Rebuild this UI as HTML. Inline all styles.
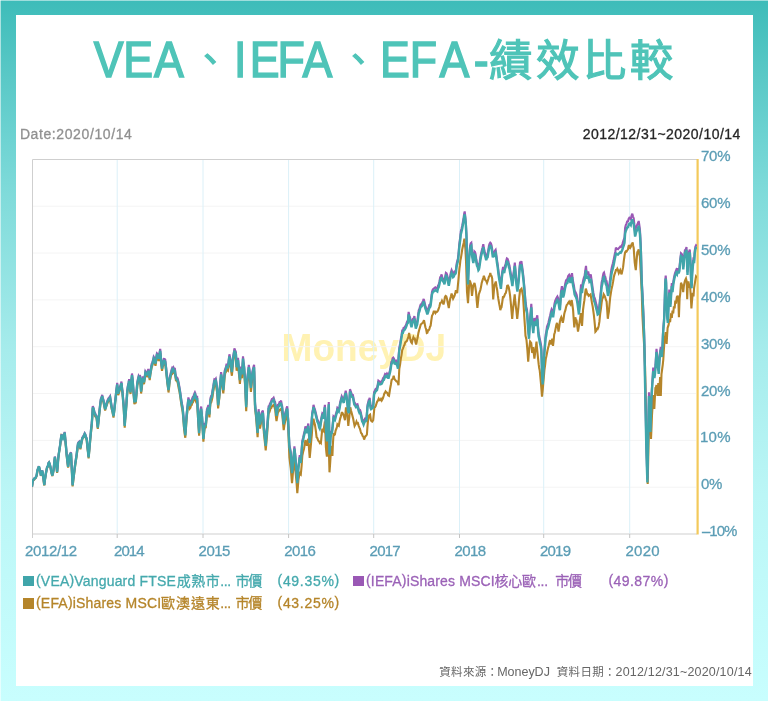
<!DOCTYPE html>
<html lang="zh-Hant">
<head>
<meta charset="utf-8">
<title>VEA、IEFA、EFA-績效比較</title>
<style>
html,body{margin:0;padding:0;}
body{width:768px;height:701px;overflow:hidden;position:relative;
  background:linear-gradient(to bottom,rgb(61,188,185) 0%,rgb(91,201,199) 11.4%,rgb(110,211,210) 20%,rgb(128,219,218) 27.8%,rgb(166,236,236) 50%,rgb(187,246,246) 70.6%,rgb(200,254,254) 100%);
  font-family:"Liberation Sans","Noto Sans CJK TC",sans-serif;}
#card{position:absolute;left:15.5px;top:15px;width:737.9px;height:671.3px;background:#fff;}
#eT{position:absolute;left:0;top:0;width:768px;height:1px;background:rgba(255,255,255,.5);}
#eL{position:absolute;left:0;top:0;width:1px;height:701px;background:rgba(255,255,255,.55);}
.t{position:absolute;white-space:nowrap;line-height:1;}
.pa{position:relative;top:-1.2px;}
.sq{position:absolute;width:10.6px;height:10.5px;}
svg{position:absolute;left:0;top:0;will-change:transform;}
#txt{position:absolute;left:0;top:0;width:768px;height:701px;will-change:transform;}
</style>
</head>
<body>
<div id="card"></div><div id="eT"></div><div id="eL"></div>
<svg id="ttl" width="768" height="110" viewBox="0 0 768 110" font-family="Liberation Sans, Noto Sans CJK TC, sans-serif" fill="#4fc4b8" stroke="#4fc4b8">
<text font-size="50.5" stroke-width="1.5" transform="translate(93.8,76.55) scale(0.885,1)" x="0 33.3 67.9" y="0">VEA</text>
<text font-size="36" stroke-width="1.2" x="192.3" y="73.3">、</text>
<text font-size="50.5" stroke-width="1.5" transform="translate(234,76.55) scale(0.885,1)" x="0 17.8 49.2 77.5" y="0">IEFA</text>
<text font-size="36" stroke-width="1.2" x="340.3" y="73.3">、</text>
<text font-size="50.5" stroke-width="1.5" transform="translate(380.1,76.55) scale(0.885,1)" x="0 33.4 67.2 105.7" y="0">EFA-</text>
<text font-size="43.5" stroke-width="1.2" x="489" y="75.7" textLength="184.2" lengthAdjust="spacing">績效比較</text>
</svg>
<svg id="chart" width="768" height="701" viewBox="0 0 768 701">
<text x="281.6" y="361.4" font-family="Liberation Sans, sans-serif" font-weight="700" font-size="39.3" fill="#fff2b3" textLength="164.6" lengthAdjust="spacingAndGlyphs">MoneyDJ</text>
<rect x="432.2" y="332.8" width="6.1" height="6.4" fill="#fff"/>
<line x1="33" x2="696" y1="206.23" y2="206.23" stroke="#f4f4f4" stroke-width="1"/>
<line x1="33" x2="696" y1="253.05" y2="253.05" stroke="#f4f4f4" stroke-width="1"/>
<line x1="33" x2="696" y1="299.88" y2="299.88" stroke="#f4f4f4" stroke-width="1"/>
<line x1="33" x2="696" y1="346.70" y2="346.70" stroke="#f4f4f4" stroke-width="1"/>
<line x1="33" x2="696" y1="393.52" y2="393.52" stroke="#f4f4f4" stroke-width="1"/>
<line x1="33" x2="696" y1="440.35" y2="440.35" stroke="#f4f4f4" stroke-width="1"/>
<line x1="33" x2="696" y1="487.18" y2="487.18" stroke="#f4f4f4" stroke-width="1"/>
<line x1="117.2" x2="117.2" y1="160" y2="533.5" stroke="#dbf0f8" stroke-width="1"/>
<line x1="203" x2="203" y1="160" y2="533.5" stroke="#dbf0f8" stroke-width="1"/>
<line x1="288.6" x2="288.6" y1="160" y2="533.5" stroke="#dbf0f8" stroke-width="1"/>
<line x1="373.7" x2="373.7" y1="160" y2="533.5" stroke="#dbf0f8" stroke-width="1"/>
<line x1="459.5" x2="459.5" y1="160" y2="533.5" stroke="#dbf0f8" stroke-width="1"/>
<line x1="543.7" x2="543.7" y1="160" y2="533.5" stroke="#dbf0f8" stroke-width="1"/>
<line x1="629.7" x2="629.7" y1="160" y2="533.5" stroke="#dbf0f8" stroke-width="1"/>
<path d="M32.5,538 V159.5 H697" fill="none" stroke="#cfcfcf" stroke-width="1"/>
<path d="M32.5,534 H697" fill="none" stroke="#cfcfcf" stroke-width="1"/>
<line x1="117.2" x2="117.2" y1="534" y2="538" stroke="#c4c4c4" stroke-width="1"/>
<line x1="203" x2="203" y1="534" y2="538" stroke="#c4c4c4" stroke-width="1"/>
<line x1="288.6" x2="288.6" y1="534" y2="538" stroke="#c4c4c4" stroke-width="1"/>
<line x1="373.7" x2="373.7" y1="534" y2="538" stroke="#c4c4c4" stroke-width="1"/>
<line x1="459.5" x2="459.5" y1="534" y2="538" stroke="#c4c4c4" stroke-width="1"/>
<line x1="543.7" x2="543.7" y1="534" y2="538" stroke="#c4c4c4" stroke-width="1"/>
<line x1="629.7" x2="629.7" y1="534" y2="538" stroke="#c4c4c4" stroke-width="1"/>
<rect x="696.5" y="159" width="2.2" height="375.5" fill="#f3c95b"/>
<clipPath id="cp"><rect x="32" y="160" width="665" height="373.5"/></clipPath>
<g clip-path="url(#cp)" fill="none" stroke-width="2.2" stroke-linejoin="miter" stroke-miterlimit="3" stroke-linecap="butt">
<polyline stroke="#b5852a" stroke-width="2.1" points="32,487 32.7,481.3 33.4,480.3 34.2,479.7 34.9,478.7 35.8,478.1 36.6,475.9 37.2,472.8 37.7,469.9 38.3,468.3 38.9,466.7 39.4,468.8 39.9,470.6 40.4,472.6 40.9,475.9 41.5,473.5 42.2,471 42.8,474.7 43.3,477.9 43.8,482.3 44.3,485.5 44.8,480.9 45.3,477.9 45.9,474.1 46.5,470.3 47.1,467.8 47.8,466.9 48.4,465.1 49.1,463.1 49.8,464.6 50.5,467.9 51.1,471.6 51.8,474.3 52.4,476.1 53,473.6 53.6,470.4 54.2,464.2 54.9,457.5 55.5,460.8 56.1,465.5 56.6,468.2 57.1,472.8 57.7,466.2 58.2,459.5 58.8,454.2 59.5,449.9 60.1,446.1 60.8,440.3 61.5,435.5 62.2,436.3 63,439 63.9,436.1 64.7,433.3 65.5,442.4 66.1,449.1 66.7,456 67.4,462.5 68.1,467.7 68.8,462.2 69.4,456.7 70.2,455.5 71,453.8 71.8,470.1 72.6,486.4 73.2,481.7 73.8,476.4 74.5,471.1 75.2,465.5 75.9,460.7 76.6,456.4 77.3,451.2 78,444.9 78.7,444.8 79.3,443.3 79.8,446.7 80.4,449.3 81,445.6 81.7,442.1 82.3,439.3 83.1,437.4 83.9,435.6 84.7,435 85.4,437.3 86,438.3 86.7,440.2 87.3,447 88,452.1 88.6,458.4 89.4,449.8 90.3,439.4 91,432.8 91.8,424.8 92.3,415.6 92.8,408.4 93.7,410.9 94.5,414.5 95.2,416.5 95.8,416.8 96.5,418 97.2,424.4 97.8,428.9 98.5,421.8 99.2,415.1 100.1,407.1 100.9,400.9 101.6,399.4 102.2,397.4 102.9,400.6 103.6,402.7 104.3,406.2 105.1,410.6 105.9,407.1 106.7,405.3 107.6,402.8 108.4,401 109.2,400.9 110.1,399 110.9,404.5 111.7,409 112.3,411.1 112.9,414.2 113.5,417.6 114.2,411.4 114.8,406.7 115.5,399.4 116.2,393.8 116.7,390.4 117.2,385.9 117.7,389.9 118.2,395.2 118.9,393.2 119.6,390.9 120.2,388.7 120.9,386.1 121.5,384.6 122,389.7 122.5,393.9 123.1,400.3 123.7,408.2 124.2,418.2 124.7,427.6 125.2,420 125.8,414 126.5,403.8 127.2,394 127.8,389.6 128.5,385.9 129.1,382.5 129.8,389.2 130.5,394 131.2,386 132,376.8 132.5,381.4 133,386.8 133.7,396.2 134.4,404.1 135.1,402.8 135.8,402.7 136.6,393.9 137.3,385.5 138,383 138.7,379.1 139.4,379.7 140.1,379.8 140.6,385.9 141.1,393.5 141.9,387.7 142.7,379.9 143.3,381.5 144,384.2 144.7,379.1 145.4,374.9 146.2,376.2 146.9,376.4 147.6,374.3 148.3,372.8 149,376 149.7,380 150.3,375.1 151,371 151.6,367.8 152.3,365.6 153,362.6 153.7,360.7 154.3,362.6 154.9,363.8 155.5,365.8 156.2,361.4 156.9,357.2 157.5,359.3 158.2,359.5 158.8,360.7 159.5,357 160.2,353 160.7,359.4 161.2,364.4 162,370.9 162.6,367.6 163.2,364.9 163.8,363 164.5,364.2 165.2,363.7 165.8,369 166.3,373 166.8,377.5 167.3,383.1 167.9,387.2 168.5,392.5 169.2,386.9 169.8,380.3 170.4,379 171,375.4 171.6,373.8 172.2,374 172.9,373.2 173.5,371.8 174.2,372.7 174.9,373.2 175.4,376.6 175.9,380.4 176.5,380.5 177.2,381.3 177.8,383.2 178.7,388.4 179.5,391.8 180.2,396.4 181,402 181.8,407.4 182.7,412 183.4,420.1 184.1,429.2 184.7,434.1 185.3,437.8 186,428 186.7,417.8 187.6,409.5 188.4,402.1 189.1,404.7 189.8,408.5 190.4,407.7 191.1,405.2 191.7,404.9 192.3,403 193,402.2 193.6,400.7 194.2,399.7 194.9,397.2 195.4,399.6 196,401.5 196.6,400.7 197.1,400.7 197.7,412.6 198.3,422.9 199.1,435.8 199.6,426 200.1,417.3 200.6,413.5 201.2,411.6 201.7,416.8 202.2,423 202.8,432.2 203.4,441.7 204,434.4 204.6,428.8 205.2,427.5 205.8,427.4 206.4,420.7 206.9,414.5 207.7,412.5 208.4,410.2 208.9,413.1 209.4,417.5 209.9,410.1 210.5,403.2 211.2,402.5 211.8,400.3 212.5,397 213.2,391.8 213.8,388.5 214.4,384.6 215.1,384.6 215.8,383.9 216.4,388 217,391.8 217.6,399.4 218.1,408.4 218.8,402.1 219.4,397.6 220.2,386.6 221.1,377.6 221.7,382.8 222.3,386.3 222.8,390.3 223.3,393.4 224,385.8 224.7,376.3 225.3,373 226,371.8 226.6,369.2 227.3,369.9 228,370.6 228.7,365.7 229.4,359.9 230.2,363.5 230.9,367.9 231.4,372.8 231.9,375.7 232.6,367.4 233.3,360.7 233.9,357.6 234.4,354.3 235.2,356.6 235.9,357.9 236.6,370.8 237.3,368.1 238,363.8 238.6,370.9 239.3,377.5 239.9,383.8 240.4,378.7 240.9,372.4 241.4,376.1 242,378.2 242.5,370 243,362.4 243.6,367.8 244.2,372.5 244.7,380.5 245.2,386.8 245.7,399.7 246.2,411.2 246.8,397.4 247.3,384 248.1,378.1 248.8,371.1 249.4,376.2 249.9,379.8 250.4,386 250.9,392 251.6,385.4 252.3,378.4 252.9,375.8 253.5,373.8 254.1,371.3 254.6,390.1 255,408.4 255.7,414 256.4,421.3 257,429.5 257.6,437.1 258.1,427.4 258.6,415.7 259.3,422.9 260,428.6 260.7,424.8 261.4,420.1 262.1,418.5 262.9,417.3 263.4,425.7 263.9,433.1 264.5,439 265.1,444.5 265.7,450.4 266.4,442.5 267.2,433.3 267.9,422.5 268.6,413.3 269.3,412.4 270,410.5 270.6,408.2 271.3,407.9 271.9,406.3 272.8,405.6 273.6,405 274.4,406.7 275.1,409.4 275.8,415.6 276.5,421 277.2,416.7 277.9,412.5 278.8,411.3 279.6,409.7 280.4,409.9 281.1,408.4 281.6,410.8 282.2,414.2 282.9,421.2 283.7,430.1 284.5,424.7 285.4,420.1 286,418.6 286.6,415.8 287.2,414.5 287.7,420.3 288.2,427.5 288.8,443.2 289.4,457.3 290.1,463.4 290.8,468.8 291.4,475.8 292,483.1 292.5,478.1 293,471.6 293.7,465.6 294.4,460.2 295.1,467.7 295.8,474.5 296.6,483.2 297.3,493.1 297.9,486.5 298.4,480.2 299,476.5 299.7,471.6 300.2,473.9 300.8,474.5 301.6,466 302.3,455.9 303.1,452.1 304,448.7 304.7,444.6 305.4,440.1 306.1,442.6 306.9,445.8 307.6,441.5 308.3,438.7 309,448.3 309.7,458 310.4,450.4 311.2,441.5 311.8,435 312.3,427.2 312.9,423.3 313.5,418.6 314.2,422.4 314.9,424.4 315.8,430.4 316.6,437.2 317.3,438 318,440.1 318.6,441 319.2,441.6 319.8,443 320.4,442.4 320.9,443 321.6,435.7 322.3,428.7 322.9,430 323.5,430.8 324.2,426.1 324.9,421.5 325.4,434 325.9,447.3 326.4,452.6 326.9,456.6 327.5,447.2 328.1,435.8 328.8,447.3 329.5,472.3 330.1,464 330.6,455.9 331.1,450 331.6,445.8 332.4,455.9 332.9,444.2 333.5,434.4 334.2,435.1 334.9,434.4 335.6,430.6 336.4,428.7 336.9,427 337.4,424.4 338.1,425.2 338.8,425.8 339.5,421.8 340.2,418.6 340.9,416.3 341.7,412.9 342.4,412.9 343.1,414.1 343.8,415.8 344.4,417.9 345,420.2 345.5,412.8 346,407.3 346.6,411.6 347.2,414.5 347.8,419.7 348.3,425.9 348.8,420.9 349.3,417.3 349.8,411.4 350.3,407.3 351,410.4 351.7,413 352.4,415.8 353.2,418.8 353.9,422.6 354.6,425.9 355.2,424.8 355.9,423.6 356.5,421.6 357.2,423.3 357.9,423.1 358.6,425.6 359.3,427.4 359.9,428.7 360.6,431.2 361.2,433.1 361.9,433.9 362.6,436 363.4,436.8 364.1,439.5 364.8,437.7 365.5,436 366.2,435.7 366.9,434.5 367.4,427.4 367.9,421.6 368.4,418.3 368.9,415.9 369.5,414.9 370.1,414.5 370.9,420.2 371.5,421.3 372.2,421.6 372.7,420.9 373.2,420.2 373.8,414 374.4,407.3 375.1,407.1 375.8,405.9 376.5,403.5 377.2,401.6 377.9,400.7 378.7,398.7 379.5,400.2 380.4,400.1 381,399 381.7,400.5 382.3,399.4 383,398 383.7,395.8 384.3,393.6 385,392.8 385.6,391.5 386.5,392.5 387.3,393 388.1,395.2 389,395.8 389.6,392 390.1,388.7 390.9,384.5 391.6,380.1 392.3,379.4 393,377.8 393.7,375.8 394.4,378.8 395.2,380.1 395.8,380.5 396.4,381.3 397,381.5 397.8,382.7 398.5,385.1 399.3,368.9 400.1,364.3 400.8,358.8 401.5,355.1 402.2,350.2 403,348.3 403.9,345.9 404.5,344.9 405.2,342.5 405.8,341.6 406.4,341.5 407,340.7 407.6,338.8 408.4,336.9 409.1,333 409.8,336.7 410.5,340.2 411.2,342.2 411.9,343.1 412.6,339.8 413.4,337.3 414.1,338.9 414.8,338.8 415.5,342.4 416.2,344.5 416.9,340.6 417.7,337.3 418.4,332.9 419.1,330.2 420,327.2 420.8,324.4 421.6,323.8 422.5,323 423.2,322.1 424,320.1 424.7,323.7 425.4,327.3 426.1,329.2 426.8,333 427.4,332.7 428.1,330.3 428.7,330.2 429.3,329.4 430,326.7 430.6,325.9 431.3,320.5 432,315.8 432.9,314.2 433.7,311.5 434.5,311.5 435.4,313 436,311.8 436.7,312 437.3,311.5 438,310.5 438.7,308.7 439.4,306.5 440.2,303 440.8,302.6 441.4,302.4 442,300.8 442.8,302.6 443.5,304.4 444.2,301.7 444.9,297.2 445.6,296 446.3,296.5 447.1,299.2 447.8,303 448.3,305.6 448.8,308 449.5,302.9 450.2,298.7 450.9,296.6 451.6,293.6 452.4,296.4 453.1,298.7 453.8,297.3 454.5,295.8 455.2,293.6 455.9,290.1 456.5,291.7 457.2,293.1 457.8,286.3 458.4,280.2 458.9,274.3 459.4,268.8 459.9,265.2 460.4,260.2 460.9,258.1 461.5,254.4 462.2,249.5 463,245.8 463.7,243 464.4,238.7 464.9,244.6 465.4,248.7 466.1,263 467,291.7 467.5,297.5 468,303.2 468.7,291.8 469.4,280.2 470.2,281.7 471,284.3 471.5,290.1 472,295.8 472.6,290.8 473.1,285.8 473.8,284.6 474.5,282.9 475.2,286.3 476,291.5 476.7,300.7 477.4,308 478.1,301.2 478.8,294.4 479.6,292.1 480.3,290.1 481,287.1 481.7,282.9 482.4,280.6 483.2,278.1 483.9,275.7 484.6,278.2 485.3,280 486.1,280.6 487,282.9 487.7,280.8 488.4,278.6 489,276.5 489.7,275.7 490.3,272.9 490.9,275.6 491.6,276.2 492.2,278.6 492.7,288.9 493.2,299.4 493.8,291.9 494.3,285.8 495.1,283.5 495.8,281.5 496.5,286.4 497.2,290.1 497.8,295.2 498.3,298.7 498.8,301.5 499.3,304.4 499.8,306.9 500.3,310.2 500.9,308.1 501.5,307.3 502.2,302.5 502.9,297.3 503.6,297.4 504.4,295.8 505.1,293.7 505.8,293 506.5,290 507.2,285.8 507.9,285.5 508.7,287.2 509.4,290.9 510.1,295.8 510.6,301 511.2,307.3 511.7,313.4 512.2,318.8 512.7,312.7 513.2,307.3 514,300.6 514.7,294.4 515.2,300.4 515.8,305.9 516.5,311.6 517.2,318.8 517.8,313.5 518.4,307.3 519.2,297.9 520.1,290.1 520.8,289.4 521.5,288.7 522.2,291.8 523,295.8 523.7,306.6 524.4,318.6 525,327.3 525.5,335.8 526,337.8 526.5,340.1 527,345.6 527.5,351.5 528.2,361.6 529.1,350.1 529.6,345.6 530.1,341.5 530.7,342.3 531.2,343 531.7,347.3 532.2,353 532.7,349.5 533.2,347.2 533.8,353.2 534.4,358.7 534.9,354.7 535.4,350.1 536,345.9 536.5,341.5 537,348 537.5,353 538.1,358.9 538.7,364.4 539.2,368 539.7,370.2 540.2,375.4 540.8,381.6 541.5,390.2 542,396.7 542.7,390.2 543.4,381.6 543.9,376.4 544.4,370.2 545.1,365.1 545.8,358.7 546.5,355.9 547.3,351.5 548,348.3 548.7,345.8 549.4,342.6 550.1,340.1 550.7,343.1 551.3,344.4 551.8,341 552.3,338.7 553,345.8 553.6,341.1 554.2,334.4 554.9,332.3 555.6,328.6 556.3,325 557,322.9 557.8,326.7 558.5,331.5 559.2,327 559.9,321.5 560.6,318.9 561.3,317.2 562,319.2 562.8,322.9 563.5,319.3 564.2,314.3 564.8,311.8 565.4,310.2 566,307.3 566.7,305.1 567.4,304.4 568.2,302.8 569.1,301.6 569.8,303.4 570.5,304.4 571.1,301.3 571.7,300.1 572.4,304.6 573.1,310.2 573.7,319.2 574.3,327.4 574.8,323.2 575.3,317.3 575.9,319.7 576.5,320.2 577.2,325.2 578,331.7 578.7,327.4 579.4,323.1 580.1,318.6 580.8,313.1 581.4,319.6 582,326 582.5,318.5 583,310.2 583.7,304.6 584.4,300.2 585.1,293.6 585.8,288.7 586.5,290.8 587.3,294.4 588,294.2 588.7,295.9 589.3,295.5 590,294.9 590.6,294.4 591.3,298.8 592,303 592.7,306.6 593.4,311.6 593.9,315.3 594.4,320.2 594.9,325.4 595.4,331.7 596.1,330.9 596.9,328.8 597.6,329.1 598.3,327.4 598.8,325.4 599.4,321.7 600.1,314.4 600.9,308.8 601.6,302.9 602.3,298.7 603,297.5 603.7,294.4 604.5,295.8 605.2,297.3 605.9,300 606.6,301.6 607.2,309.9 607.8,318.8 608.3,315.1 608.9,311.6 609.5,304.5 610.2,297.3 610.9,292.9 611.6,288.7 612.4,285.3 613.1,281.5 613.8,277 614.5,274.4 615.2,272.7 615.9,270.1 616.6,270.1 617.3,268.7 618,270.2 618.8,273 619.5,271.5 620.2,270.1 620.9,272.7 621.6,274.4 622.4,270.6 623.1,267.2 623.8,260.9 624.5,255.8 625.1,252.3 625.8,251.3 626.5,251.6 627.2,250.5 628,249.4 628.5,246.3 629,245.1 629.5,247.3 630.1,248 630.8,246.8 631.5,244.4 632.1,243.8 632.7,242.3 633.2,245.9 633.7,248 634.2,255.4 634.7,262.3 635.2,266.1 635.8,270.2 636.5,261.4 637.3,252.3 638,250.9 638.7,249.4 639.3,254 639.9,256.6 640.4,266.5 640.9,275.2 641.8,294 642.4,315 643.2,330 644.1,345 644.6,356 645.1,368 645.8,400 646.5,440 647.1,462.8 647.7,484 648.4,450 649.2,415 650,405 650.5,422.5 651,439 651.5,427.6 652,415 652.6,405.6 653.2,395 653.8,401.8 654.3,409 654.8,399.3 655.4,388 656,387.3 656.5,385 657,390.9 657.5,396 658.3,383 658.8,390 659.2,396 660.1,377 660.8,396 661.5,374 662.3,368 662.8,364.3 663.3,359.5 663.8,350.6 664.4,342 665,337.4 665.6,332 666.1,337.1 666.6,344 667.1,335.7 667.6,328 668.1,326.4 668.6,324.9 669.3,319.2 670.1,322.1 670.8,314.9 671.3,315.4 671.8,317.8 672.5,310.7 673.2,313.5 673.9,306.4 674.6,308.5 675.3,300.7 676,303.5 676.8,297.1 677.2,296.5 677.7,296.4 678.4,300.7 678.9,317.1 679.6,298.5 680.3,292.8 681,282.8 681.7,284.3 682.5,286.4 683.2,292.1 683.9,285.7 684.6,282.1 685.3,280 686,278.6 686.7,281.4 687.2,299.3 687.8,283.6 688.5,281.4 689.1,287.8 689.8,283.6 690.3,289.3 690.8,296.4 691.4,308.5 692.1,300 692.8,292.8 693.5,296.4 694.1,287.8 694.8,283.6 695.5,279.3 696,276.4 696.5,277 697,277"/>
<polyline stroke="#9a58b5" stroke-width="2.1" points="32,486.7 32.7,481 33.4,479.7 34.2,478.5 34.9,478.3 35.8,477.2 36.6,475.4 37.2,471.5 37.7,469.4 38.3,467.9 38.9,466.2 39.4,467.9 39.9,470.1 40.4,471.8 40.9,475.3 41.5,472.9 42.2,470.4 42.8,472.9 43.3,477.2 43.8,480.9 44.3,484.8 44.8,480.1 45.3,477.2 45.9,473 46.5,470.2 47.1,467 47.8,466.1 48.4,463.1 49.1,462.3 49.8,464.1 50.5,467 51.1,470 51.8,473.3 52.4,475.1 53,472.4 53.6,469.4 54.2,462.7 54.9,456.5 55.5,461.5 56.1,464.5 56.6,467.2 57.1,471.7 57.7,465.7 58.2,458.3 58.8,453.4 59.5,448.7 60.1,444.9 60.8,438.8 61.5,434.3 62.2,435.7 63,437.8 63.9,435.5 64.7,431.9 65.5,441 66.1,447.2 66.7,454.6 67.4,460.6 68.1,466.3 68.8,461 69.4,455.2 70.2,453.5 71,452.3 71.8,468.6 72.6,484.8 73.2,478.9 73.8,474.8 74.5,468.7 75.2,463.7 75.9,459 76.6,454.1 77.3,448.3 78,443.2 78.7,442 79.3,441.5 79.8,444.6 80.4,447.4 81,444 81.7,440.3 82.3,437.4 83.1,436.6 83.9,434.9 84.7,433.1 85.4,434.3 86,436.6 86.7,438.1 87.3,444.2 88,451 88.6,456.3 89.4,447.3 90.3,437.3 91,429.5 91.8,422.6 92.3,415.3 92.8,406.1 93.7,408.4 94.5,412.2 95.2,413.2 95.8,415 96.5,415.7 97.2,420.4 97.8,426.5 98.5,419.6 99.2,412.7 100.1,404.6 100.9,398.4 101.6,397 102.2,394.9 102.9,398 103.6,400.1 104.3,404.2 105.1,408 105.9,406.1 106.7,402.6 107.6,400.1 108.4,398.3 109.2,397.6 110.1,396.2 110.9,401.4 111.7,406.2 112.3,409.2 112.9,411.8 113.5,414.8 114.2,409.9 114.8,403.7 115.5,398.1 116.2,390.8 116.7,386.8 117.2,382.9 117.7,387.9 118.2,392.2 118.9,389.2 119.6,387.9 120.2,386.2 120.9,383.9 121.5,381.5 122,387.1 122.5,390.8 123.1,398.5 123.7,405 124.2,414.3 124.7,424.4 125.2,417.4 125.8,410.8 126.5,401.1 127.2,390.7 127.8,385.9 128.5,383 129.1,379.2 129.8,384.3 130.5,390.7 131.2,381.3 132,373.5 132.5,377.6 133,383.5 133.7,392.6 134.4,400.7 135.1,399.2 135.8,399.2 136.6,390.1 137.3,382 138,378.6 138.7,375.6 139.4,376.7 140.1,376.3 140.6,382.3 141.1,389.9 141.9,383 142.7,376.3 143.3,378.5 144,380.6 144.7,376.7 145.4,371.3 146.2,372.6 146.9,372.7 147.6,371.6 148.3,369 149,372.2 149.7,376.2 150.3,372 151,367.8 151.6,364 152.3,362.4 153,360.1 153.7,356.8 154.3,357.8 154.9,359.6 155.5,361.9 156.2,357.1 156.9,353.3 157.5,353.9 158.2,355.6 158.8,356.8 159.5,353 160.2,348.9 160.7,354.1 161.2,360.3 162,366.8 162.6,363.2 163.2,361.4 163.8,358.9 164.5,359 165.2,359.6 165.8,364.4 166.3,368.9 166.8,374.8 167.3,378.9 167.9,384 168.5,388.3 169.2,382.2 169.8,376.1 170.4,374.2 171,372.1 171.6,369.6 172.2,368 172.9,368.9 173.5,367.4 174.2,368.7 174.9,368.8 175.4,373.1 175.9,376 176.5,377.5 177.2,377.7 177.8,378.8 178.7,382.9 179.5,387.4 180.2,391.7 181,397.5 181.8,402.8 182.7,407.5 183.4,415.2 184.1,424.7 184.7,428.1 185.3,433.2 186,422.6 186.7,413.1 187.6,404.6 188.4,397.4 189.1,400.3 189.8,403.8 190.4,401.7 191.1,400.4 191.7,400.2 192.3,398.1 193,396.5 193.6,395.9 194.2,393.9 194.9,392.4 195.4,393.6 196,396.7 196.6,397 197.1,395.8 197.7,407.1 198.3,418 199.1,430.9 199.6,420.9 200.1,412.3 200.6,409 201.2,406.6 201.7,412 202.2,418 202.8,427.1 203.4,436.7 204,429.5 204.6,423.8 205.2,423.7 205.8,422.3 206.4,416.8 206.9,409.4 207.7,407.2 208.4,405.1 208.9,408.7 209.4,412.3 209.9,404.3 210.5,398 211.2,395.8 211.8,395.1 212.5,390.5 213.2,386.5 213.8,382.4 214.4,379.3 215.1,379.6 215.8,378.6 216.4,381.9 217,386.5 217.6,393.8 218.1,403 218.8,398.5 219.4,392.2 220.2,382.3 221.1,372.2 221.7,375.8 222.3,380.8 222.8,384.4 223.3,387.9 224,378.4 224.7,370.8 225.3,368.5 226,367 226.6,363.6 227.3,365 228,365 228.7,360 229.4,354.3 230.2,357.8 230.9,362.2 231.4,365.8 231.9,370 232.6,361.8 233.3,355 233.9,352.3 234.4,348.5 235.2,350.4 235.9,352.1 236.6,365 237.3,362 238,357.9 238.6,364.2 239.3,370.7 239.9,377.9 240.4,372.8 240.9,366.5 241.4,370.3 242,372.2 242.5,365 243,356.4 243.6,362.1 244.2,366.5 244.7,374.3 245.2,380.8 245.7,393.4 246.2,405 246.8,390.9 247.3,377.8 248.1,371.4 248.8,364.9 249.4,368.9 249.9,373.5 250.4,378.7 250.9,385.7 251.6,378 252.3,372.1 252.9,369.3 253.5,366.8 254.1,364.9 254.6,383.8 255,402 255.7,409.4 256.4,414.9 257,422.7 257.6,430.7 258.1,420.8 258.6,409.2 259.3,416.6 260,422.1 260.7,418.7 261.4,413.5 262.1,411.8 262.9,410.6 263.4,417.9 263.9,426.4 264.5,431.6 265.1,437.2 265.7,443.5 266.4,434.4 267.2,426.4 267.9,416.6 268.6,406.3 269.3,405.7 270,403.4 270.6,402.6 271.3,400.5 271.9,399.1 272.8,398.7 273.6,397.7 274.4,400.4 275.1,402 275.8,406.9 276.5,413.5 277.2,409.5 277.9,404.9 278.8,404.3 279.6,402 280.4,401.9 281.1,400.6 281.6,404 282.2,406.3 282.9,414.2 283.7,422.1 284.5,416.4 285.4,412 286,410.7 286.6,407.9 287.2,406.3 287.7,413.4 288.2,419.2 288.8,433 289.4,445 290.1,448.3 290.8,452.1 291.4,461.3 292,470.8 292.5,466.6 293,460.7 293.7,454 294.4,446.4 295.1,452.9 295.8,460.7 296.6,470 297.3,480.8 297.9,473 298.4,466.5 299,461.6 299.7,455 300.2,458.5 300.8,460.7 301.6,450 302.3,440.7 303.1,437.8 304,433.5 304.7,430.9 305.4,426.4 306.1,428.9 306.9,430.7 307.6,426.8 308.3,423.5 309,432.2 309.7,440.7 310.4,432.8 311.2,426.4 311.8,418.2 312.3,412 312.9,409.4 313.5,404.9 314.2,407.3 314.9,409.2 315.8,412.8 316.6,416.3 317.3,419.3 318,420.6 318.6,422.4 319.2,425.2 319.8,426.4 320.4,424.2 320.9,420.6 321.6,416.5 322.3,413.5 322.9,414.4 323.5,416.3 324.2,410.2 324.9,404.9 325.4,415.1 325.9,426.4 326.4,433 326.9,439.2 327.5,426.6 328.1,414.9 328.8,402 329.5,452.1 330.1,443.3 330.6,434.9 331.2,431.8 331.8,431 332.4,427.8 332.9,421.8 333.5,416.3 334.2,417 334.9,417.8 335.6,415.1 336.4,412 336.9,410.7 337.4,407.7 338.1,408.3 338.8,409.2 339.5,406.4 340.2,402 340.9,399.2 341.7,396.3 342.4,397.8 343.1,399.2 343.8,400.6 344.4,396.3 345.1,393.9 345.7,390.7 346.3,393.6 346.9,397.8 347.4,401.9 347.9,407.9 348.4,409.9 348.9,410.7 349.4,399.3 350,389.2 350.8,391.3 351.5,393.5 352.2,394.7 352.9,395 353.6,398.7 354.3,402.1 355.1,403.2 356,405 356.8,404.7 357.5,404.3 358.2,406.9 358.9,409.3 359.5,410.8 360.2,410.4 360.8,412.2 361.5,415.9 362.2,419.3 362.9,420.2 363.6,422.2 364.4,420 365.1,418.6 365.8,418.8 366.5,417.9 367,411.5 367.5,405 368.1,402.6 368.7,400 369.2,399.4 369.7,397.8 370.5,405.7 371.1,406.9 371.8,406.4 372.5,405.6 373.2,405 373.6,398.8 374.1,392.1 374.8,390.7 375.5,389.2 376.2,388.5 377,387.8 377.7,384.6 378.4,380.7 379.2,381.3 380.1,382.1 381,381.8 381.8,381.3 382.6,379.5 383.3,377.7 383.9,377.4 384.5,375.7 385.1,374.1 385.7,374.6 386.4,374.5 387,373.4 387.7,374.4 388.4,376.3 389.1,373.5 389.9,370.5 390.6,367.1 391.3,361.9 392,361.1 392.6,358.3 393.3,357.6 394,358.6 394.7,361.2 395.3,361.3 396,360.7 396.6,361.8 397.3,363.4 398,366.1 398.6,356 399.3,347.7 400.1,343.7 400.8,339.1 401.5,335.4 402.2,330.5 402.9,330.4 403.6,327.9 404.3,327.7 405,326.7 405.8,325.2 406.5,323.4 407.2,321.2 407.9,320.5 408.6,311.9 409.4,315.5 410.1,317.5 410.8,322 411.5,324.7 412.2,321.3 412.9,319 413.6,318.5 414.4,316.1 415.1,320.9 415.8,326.1 416.5,323.9 417.2,321.8 417.9,317.1 418.7,310.4 419.4,308.9 420.1,306.1 420.7,304.5 421.4,304 422,303.2 422.9,301.1 423.7,298.9 424.5,302.1 425.4,306 426,307.3 426.7,309.4 427.3,311.7 428,310 428.7,307.4 429.3,305 430,304.6 430.6,303.1 431.3,297.3 432,291.7 432.9,289.3 433.7,288.8 434.5,287.8 435.4,287.4 436,288.1 436.7,288.4 437.3,288.8 438,285.7 438.7,284.4 439.4,281.8 440.2,277.2 440.9,276.4 441.6,274.4 442.3,277.5 443,278.7 443.8,279.3 444.5,281.5 445.2,276.7 445.9,272.9 446.6,273.4 447.3,275.8 448.1,280 448.8,283 449.5,278.9 450.2,275.8 450.9,272.2 451.6,270.1 452.4,272 453.1,274.3 453.8,273.7 454.5,271.4 455.2,271.3 455.9,270 456.5,264.4 457.2,261.1 457.9,258.7 458.7,251.5 459.2,245.1 459.8,240.1 460.3,236.6 460.8,231.5 461.5,228.8 462.2,225.8 462.9,221.9 463.7,217.2 464.2,213.5 464.7,211.4 465.2,215.6 465.8,221.5 466.5,234.3 467.2,265.8 468,281.5 468.5,269.7 469,257.2 469.6,251.3 470.1,245.7 470.7,243.4 471.3,242.8 471.8,249.4 472.3,254.3 472.8,257.4 473.3,260 473.9,256.3 474.4,251.4 475,252 475.6,254.3 476.3,259.3 477,262.9 477.7,264.2 478.4,267.2 478.9,266.5 479.4,264.3 479.9,260.7 480.4,257.2 481.1,253.2 481.9,249.9 482.6,247.2 483.3,244.2 484,248.6 484.7,251.3 485.4,253.7 486.2,257.1 486.9,254.9 487.6,254.2 488.3,250 489,245.6 489.6,243.6 490.2,242.7 490.9,243.4 491.6,245.6 492.2,249.2 492.8,254.2 493.5,252.6 494.2,252.8 494.9,250.7 495.6,249.8 496.3,254.4 497,259.8 497.8,265.2 498.5,271.3 499.2,276.1 499.9,279.9 500.4,282.3 500.9,285.6 501.4,279.9 501.9,274.2 502.5,270 503.1,267 503.6,268.1 504.2,269.9 504.9,266 505.6,264.1 506.2,260.8 506.9,258.4 507.6,258.9 508.4,261.3 508.9,263.9 509.5,265.5 510.2,269.9 510.9,274.1 511.6,277.8 512.4,282.7 512.9,278.3 513.4,274.1 514.1,269.2 514.8,262.6 515.4,269 516,276.9 516.7,283.3 517.4,288.4 518,284 518.5,279.8 519.2,271.2 520,262.6 520.7,262.6 521.4,261.2 522.1,266 522.8,271.2 523.5,277.5 524.1,283.8 524.9,293.5 525.6,302.5 526.3,307 527,309.6 527.5,316.5 528,324 528.5,330.4 529,335.4 529.5,327.2 530.1,318.2 530.7,311.3 531.3,303.9 531.8,312.3 532.3,321.1 532.8,325.1 533.3,329.7 533.8,323.1 534.4,318.2 535.1,319.6 535.9,322.5 536.6,318 537.3,315.3 537.9,324.4 538.5,332.5 539.2,335.6 539.9,339.6 540.6,342.5 541.3,346.8 542,369.5 542.7,381 543.4,368.1 543.9,358 544.4,349.5 545,343 545.6,335.2 546.3,331.6 547,326.6 547.8,324.8 548.5,322.3 549.4,318.3 550.2,315.2 550.9,311.8 551.6,309.4 552.4,311.1 553.1,313.6 553.8,308.5 554.5,303.6 555.2,300.8 555.9,299.3 556.6,297.7 557.4,296.4 558.1,298 558.8,300.6 559.3,304.4 559.9,306.4 560.4,300.1 560.9,292 561.4,289.2 561.9,286.3 562.5,289.4 563.1,293.5 563.8,291.5 564.5,287.6 565.2,283.7 566,280.5 566.7,279.5 567.4,279.1 568.2,276 569.1,274.8 569.8,276.7 570.5,279 571.2,276 572,273.2 572.5,277.5 573.1,281.8 573.9,285.5 574.6,290.4 575.3,291.8 576,293.2 576.7,295.1 577.4,298.9 578.1,304.2 578.9,310.4 579.5,304.5 580,300.3 580.5,292.2 581,284.5 581.5,285.7 582,288.8 582.6,283.5 583.2,280.2 583.9,277.7 584.6,275.9 585.3,270.4 586,265.9 586.7,274.4 587.5,273.1 588.2,271.5 588.8,274.4 589.4,277.2 590.1,276.3 590.8,274.4 591.4,279 592,282.9 592.7,288.3 593.4,292.9 594.1,296.5 594.9,298.6 595.6,301.3 596.3,304.4 597,306.9 597.7,310 598.5,309.5 599.2,307.1 599.7,301.4 600.2,297.1 600.9,290.3 601.6,282.7 602.3,279.4 603,275.5 603.5,273.1 604,272.5 604.6,275.3 605.2,276.7 605.9,279.6 606.6,281 607.3,286.3 608,291 608.6,288.5 609.2,285.1 609.9,280.7 610.6,275.1 611.3,270 612,266.4 612.8,263.5 613.5,260.6 614.2,257 614.9,253.4 615.4,251.2 615.9,247.6 616.6,248.9 617.3,248.9 618,249.2 618.8,248.2 619.5,247.6 620.2,246.7 620.9,247.1 621.6,245.9 622.4,244.1 623.1,241.5 623.8,239.7 624.5,237.2 625.1,227.9 625.8,225.2 626.5,223.6 627.2,221.5 628,221.3 628.7,218.8 629.4,217.7 630.1,218.2 630.8,219.2 631.5,215.7 632.3,213.7 633,216.6 633.7,218.2 634.4,224.8 635.1,231.2 635.6,229.4 636.1,227 636.7,226 637.3,224.4 638,223.1 638.7,221 639.3,225 639.9,229 640.4,237.4 640.9,247.8 641.8,280.6 642.6,294.7 643.1,306.3 643.6,316.8 644.4,340.9 645,376 645.6,409 646.3,442.1 646.8,460.9 647.4,478.7 648,442.2 648.6,409.2 649,392.3 649.7,410.4 650.4,428.4 650.9,412.5 651.4,396.4 652.3,381.5 652.8,374.8 653.2,367.5 653.8,370.2 654.4,374.6 655,370.1 655.5,364.7 656,356.3 656.5,348.8 657.1,354.4 657.7,361.8 658.2,365.9 658.7,370.9 659.2,362.9 659.8,354 660.3,349.9 660.8,347 661.3,351 661.9,354 662.5,344 663,332 663.5,325 664.1,318 664.8,297.1 665.3,280.1 665.7,275.6 666.1,280.1 666.5,297.1 667.1,313.1 667.8,320.1 668.5,305.1 669.3,289.6 670,296.1 670.4,304.1 671.1,293.1 671.8,283.1 672.5,289.1 673.3,281.6 673.8,278.6 674.3,276.1 675.1,272.9 675.7,271.3 676.3,269.8 677.1,271.3 677.8,268.2 678.6,270.6 679.4,268.2 680.2,259.6 681,253.3 681.8,254.1 682.5,256.4 683.3,266.7 684.1,257.3 684.9,250.3 685.7,249.5 686.5,247.1 687,259.7 687.5,272.2 688.2,257.3 689,251.8 689.8,249.5 690.4,259.7 690.9,274.6 691.6,285.6 692.2,271.4 692.7,265.3 693.5,257.4 694.1,260.6 694.7,251.2 695.3,246.9 696.1,245.3 697,246.1"/>
<polyline stroke="#40a5aa" stroke-width="2.4" points="32,486.7 32.7,481 33.4,479.8 34.2,478.6 34.9,478.4 35.8,477.3 36.6,475.5 37.2,471.6 37.7,469.5 38.3,468 38.9,466.3 39.4,468 39.9,470.2 40.4,472 40.9,475.5 41.5,473.1 42.2,470.6 42.8,473.1 43.3,477.4 43.8,481.1 44.3,485 44.8,480.3 45.3,477.4 45.9,473.2 46.5,470.5 47.1,467.3 47.8,466.4 48.4,463.4 49.1,462.6 49.8,464.4 50.5,467.3 51.1,470.3 51.8,473.7 52.4,475.5 53,472.8 53.6,469.8 54.2,463.1 54.9,456.9 55.5,461.9 56.1,464.9 56.6,467.6 57.1,472.1 57.7,466.2 58.2,458.8 58.8,453.9 59.5,449.2 60.1,445.4 60.8,439.3 61.5,434.8 62.2,436.2 63,438.3 63.9,436 64.7,432.5 65.5,441.6 66.1,447.8 66.7,455.2 67.4,461.2 68.1,466.9 68.8,461.7 69.4,455.9 70.2,454.2 71,453 71.8,469.3 72.6,485.5 73.2,479.6 73.8,475.5 74.5,469.4 75.2,464.4 75.9,459.8 76.6,454.9 77.3,449.1 78,444 78.7,442.8 79.3,442.3 79.8,445.5 80.4,448.3 81,444.9 81.7,441.2 82.3,438.3 83.1,437.5 83.9,435.8 84.7,434 85.4,435.2 86,437.5 86.7,439.1 87.3,445.2 88,452 88.6,457.3 89.4,448.3 90.3,438.3 91,430.6 91.8,423.7 92.3,416.4 92.8,407.2 93.7,409.5 94.5,413.3 95.2,414.3 95.8,416.1 96.5,416.8 97.2,421.6 97.8,427.7 98.5,420.8 99.2,413.9 100.1,405.8 100.9,399.6 101.6,398.2 102.2,396.1 102.9,399.3 103.6,401.4 104.3,405.5 105.1,409.3 105.9,407.4 106.7,403.9 107.6,401.4 108.4,399.6 109.2,399 110.1,397.6 110.9,402.8 111.7,407.6 112.3,410.6 112.9,413.2 113.5,416.2 114.2,411.4 114.8,405.2 115.5,399.6 116.2,392.3 116.7,388.3 117.2,384.4 117.7,389.4 118.2,393.7 118.9,390.7 119.6,389.4 120.2,387.7 120.9,385.4 121.5,383 122,388.6 122.5,392.3 123.1,400.1 123.7,406.6 124.2,415.9 124.7,426 125.2,419 125.8,412.4 126.5,402.7 127.2,392.3 127.8,387.5 128.5,384.6 129.1,380.8 129.8,385.9 130.5,392.3 131.2,382.9 132,375.1 132.5,379.2 133,385.1 133.7,394.2 134.4,402.3 135.1,400.9 135.8,400.9 136.6,391.8 137.3,383.7 138,380.3 138.7,377.3 139.4,378.4 140.1,378 140.6,384 141.1,391.6 141.9,384.7 142.7,378 143.3,380.2 144,382.3 144.7,378.4 145.4,373 146.2,374.3 146.9,374.4 147.6,373.3 148.3,370.8 149,374 149.7,378 150.3,373.8 151,369.6 151.6,365.8 152.3,364.2 153,361.9 153.7,358.6 154.3,359.6 154.9,361.4 155.5,363.7 156.2,358.9 156.9,355.1 157.5,355.7 158.2,357.4 158.8,358.6 159.5,354.9 160.2,350.8 160.7,356 161.2,362.2 162,368.7 162.6,365.1 163.2,363.3 163.8,360.8 164.5,360.9 165.2,361.5 165.8,366.3 166.3,370.8 166.8,376.7 167.3,380.8 167.9,385.9 168.5,390.2 169.2,384.1 169.8,378 170.4,376.1 171,374 171.6,371.5 172.2,369.9 172.9,370.9 173.5,369.4 174.2,370.7 174.9,370.8 175.4,375.1 175.9,378 176.5,379.5 177.2,379.7 177.8,380.8 178.7,384.9 179.5,389.4 180.2,393.7 181,399.5 181.8,404.8 182.7,409.5 183.4,417.2 184.1,426.7 184.7,430.1 185.3,435.3 186,424.7 186.7,415.2 187.6,406.7 188.4,399.5 189.1,402.4 189.8,405.9 190.4,403.8 191.1,402.5 191.7,402.3 192.3,400.2 193,398.6 193.6,398 194.2,396 194.9,394.5 195.4,395.7 196,398.8 196.6,399.1 197.1,398 197.7,409.3 198.3,420.2 199.1,433.1 199.6,423.1 200.1,414.5 200.6,411.2 201.2,408.8 201.7,414.2 202.2,420.2 202.8,429.3 203.4,438.9 204,431.7 204.6,426 205.2,425.9 205.8,424.5 206.4,419 206.9,411.6 207.7,409.4 208.4,407.3 208.9,410.9 209.4,414.5 209.9,406.5 210.5,400.2 211.2,398 211.8,397.3 212.5,392.7 213.2,388.7 213.8,384.6 214.4,381.5 215.1,381.8 215.8,380.8 216.4,384.1 217,388.7 217.6,396 218.1,405.2 218.8,400.7 219.4,394.4 220.2,384.5 221.1,374.4 221.7,378 222.3,383 222.8,386.6 223.3,390.1 224,380.6 224.7,373 225.3,370.7 226,369.2 226.6,365.8 227.3,367.2 228,367.2 228.7,362.2 229.4,356.5 230.2,360 230.9,364.4 231.4,368 231.9,372.2 232.6,364 233.3,357.2 233.9,354.5 234.4,350.7 235.2,352.6 235.9,354.3 236.6,367.2 237.3,364.2 238,360.1 238.6,366.4 239.3,372.9 239.9,380.1 240.4,375 240.9,368.7 241.4,372.5 242,374.4 242.5,367.2 243,358.6 243.6,364.3 244.2,368.7 244.7,376.5 245.2,383 245.7,395.6 246.2,407.3 246.8,393.2 247.3,380.1 248.1,373.7 248.8,367.2 249.4,371.2 249.9,375.8 250.4,381 250.9,388 251.6,380.3 252.3,374.4 252.9,371.6 253.5,369.1 254.1,367.2 254.6,386.1 255,404.3 255.7,411.7 256.4,417.2 257,425 257.6,433 258.1,423.1 258.6,411.5 259.3,418.9 260,424.4 260.7,421 261.4,415.8 262.1,414.1 262.9,412.9 263.4,420.2 263.9,428.7 264.5,433.9 265.1,439.5 265.7,445.8 266.4,436.7 267.2,428.7 267.9,418.9 268.6,408.6 269.3,408 270,405.7 270.6,404.9 271.3,402.8 271.9,401.4 272.8,401 273.6,400 274.4,402.7 275.1,404.3 275.8,409.2 276.5,415.8 277.2,411.8 277.9,407.2 278.8,406.6 279.6,404.3 280.4,404.2 281.1,402.9 281.6,406.3 282.2,408.6 282.9,416.5 283.7,424.4 284.5,418.7 285.4,414.3 286,413 286.6,410.2 287.2,408.6 287.7,415.7 288.2,421.5 288.8,435.3 289.4,447.3 290.1,450.6 290.8,454.4 291.4,463.6 292,473.1 292.5,468.9 293,463 293.7,456.3 294.4,448.7 295.1,455.2 295.8,463 296.6,472.3 297.3,483.1 297.9,475.3 298.4,468.8 299,463.9 299.7,457.3 300.2,460.8 300.8,463 301.6,452.3 302.3,443 303.1,440.1 304,435.8 304.7,433.2 305.4,428.7 306.1,431.2 306.9,433 307.6,429.1 308.3,425.8 309,434.5 309.7,443 310.4,435.1 311.2,428.7 311.8,420.5 312.3,414.3 312.9,411.7 313.5,407.2 314.2,409.6 314.9,411.5 315.8,415.1 316.6,418.6 317.3,421.6 318,422.9 318.6,424.7 319.2,427.5 319.8,428.7 320.4,426.5 320.9,422.9 321.6,418.8 322.3,415.8 322.9,416.7 323.5,418.6 324.2,412.5 324.9,407.2 325.4,417.4 325.9,428.7 326.4,435.3 326.9,441.5 327.5,428.9 328.1,417.2 328.8,404.3 329.5,454.4 330.1,445.6 330.6,437.2 331.2,434.1 331.8,433.3 332.4,430.1 332.9,424.1 333.5,418.6 334.2,419.3 334.9,420.1 335.6,417.4 336.4,414.3 336.9,413 337.4,410 338.1,410.6 338.8,411.5 339.5,408.7 340.2,404.3 340.9,401.5 341.7,398.6 342.4,400.1 343.1,401.5 343.8,402.9 344.4,398.6 345.1,396.2 345.7,393 346.3,395.9 346.9,400.1 347.4,404.2 347.9,410.2 348.4,412.2 348.9,413 349.4,401.6 350,391.5 350.8,393.6 351.5,395.8 352.2,397 352.9,397.3 353.6,401 354.3,404.4 355.1,405.5 356,407.3 356.8,407 357.5,406.6 358.2,409.2 358.9,411.6 359.5,413.1 360.2,412.7 360.8,414.5 361.5,418.2 362.2,421.6 362.9,422.5 363.6,424.5 364.4,422.3 365.1,420.9 365.8,421.1 366.5,420.2 367,413.8 367.5,407.3 368.1,404.9 368.7,402.3 369.2,401.7 369.7,400.1 370.5,408 371.1,409.2 371.8,408.7 372.5,407.9 373.2,407.3 373.6,401.1 374.1,394.4 374.8,393 375.5,391.5 376.2,390.8 377,390.1 377.7,386.9 378.4,383 379.2,383.6 380.1,384.4 381,384.1 381.8,383.7 382.6,381.9 383.3,380.1 383.9,379.8 384.5,378.1 385.1,376.5 385.7,377 386.4,376.9 387,375.8 387.7,376.8 388.4,378.7 389.1,375.9 389.9,372.9 390.6,369.5 391.3,364.3 392,363.5 392.6,360.7 393.3,360 394,361 394.7,363.6 395.3,363.7 396,363.2 396.6,364.3 397.3,365.9 398,368.6 398.6,358.5 399.3,350.2 400.1,346.2 400.8,341.6 401.5,337.9 402.2,333 402.9,332.9 403.6,330.4 404.3,330.2 405,329.2 405.8,327.7 406.5,325.9 407.2,323.7 407.9,323 408.6,314.4 409.4,318 410.1,320.1 410.8,324.6 411.5,327.3 412.2,323.9 412.9,321.6 413.6,321.1 414.4,318.7 415.1,323.5 415.8,328.7 416.5,326.5 417.2,324.4 417.9,319.7 418.7,313 419.4,311.5 420.1,308.7 420.7,307.1 421.4,306.6 422,305.8 422.9,303.7 423.7,301.5 424.5,304.8 425.4,308.7 426,310 426.7,312.1 427.3,314.4 428,312.7 428.7,310.1 429.3,307.7 430,307.3 430.6,305.8 431.3,300 432,294.4 432.9,292 433.7,291.5 434.5,290.5 435.4,290.1 436,290.8 436.7,291.1 437.3,291.5 438,288.5 438.7,287.2 439.4,284.6 440.2,280 440.9,279.2 441.6,277.2 442.3,280.3 443,281.5 443.8,282.1 444.5,284.3 445.2,279.5 445.9,275.7 446.6,276.2 447.3,278.6 448.1,282.8 448.8,285.8 449.5,281.7 450.2,278.6 450.9,275 451.6,272.9 452.4,274.9 453.1,277.2 453.8,276.6 454.5,274.3 455.2,274.2 455.9,272.9 456.5,267.3 457.2,264 457.9,261.6 458.7,254.4 459.2,248 459.8,243 460.3,239.5 460.8,234.4 461.5,231.7 462.2,228.7 462.9,224.8 463.7,220.1 464.2,216.4 464.7,214.3 465.2,218.5 465.8,224.4 466.5,237.2 467.2,268.8 468,284.5 468.5,272.7 469,260.2 469.6,254.3 470.1,248.7 470.7,246.4 471.3,245.8 471.8,252.4 472.3,257.3 472.8,260.4 473.3,263 473.9,259.3 474.4,254.4 475,255 475.6,257.3 476.3,262.3 477,265.9 477.7,267.2 478.4,270.2 478.9,269.5 479.4,267.3 479.9,263.7 480.4,260.2 481.1,256.3 481.9,253 482.6,250.3 483.3,247.3 484,251.7 484.7,254.4 485.4,256.8 486.2,260.2 486.9,258 487.6,257.3 488.3,253.1 489,248.7 489.6,246.7 490.2,245.8 490.9,246.5 491.6,248.7 492.2,252.3 492.8,257.3 493.5,255.7 494.2,255.9 494.9,253.9 495.6,253 496.3,257.6 497,263 497.8,268.4 498.5,274.5 499.2,279.3 499.9,283.1 500.4,285.5 500.9,288.8 501.4,283.1 501.9,277.4 502.5,273.2 503.1,270.2 503.6,271.3 504.2,273.1 504.9,269.2 505.6,267.3 506.2,264 506.9,261.6 507.6,262.1 508.4,264.5 508.9,267.1 509.5,268.8 510.2,273.2 510.9,277.4 511.6,281.1 512.4,286 512.9,281.6 513.4,277.4 514.1,272.5 514.8,265.9 515.4,272.3 516,280.2 516.7,286.6 517.4,291.7 518,287.3 518.5,283.1 519.2,274.5 520,265.9 520.7,265.9 521.4,264.5 522.1,269.3 522.8,274.5 523.5,280.9 524.1,287.2 524.9,296.9 525.6,305.9 526.3,310.4 527,313 527.5,319.9 528,327.4 528.5,333.8 529,338.8 529.5,330.6 530.1,321.6 530.7,314.7 531.3,307.3 531.8,315.7 532.3,324.5 532.8,328.5 533.3,333.1 533.8,326.5 534.4,321.6 535.1,323 535.9,325.9 536.6,321.5 537.3,318.8 537.9,327.9 538.5,336 539.2,339.1 539.9,343.1 540.6,346 541.3,350.3 542,373 542.7,384.5 543.4,371.6 543.9,361.5 544.4,353 545,346.5 545.6,338.7 546.3,335.2 547,330.2 547.8,328.4 548.5,325.9 549.4,321.9 550.2,318.8 550.9,315.4 551.6,313 552.4,314.7 553.1,317.3 553.8,312.2 554.5,307.3 555.2,304.5 555.9,303 556.6,301.4 557.4,300.1 558.1,301.8 558.8,304.4 559.3,308.2 559.9,310.2 560.4,303.9 560.9,295.8 561.4,293 561.9,290.1 562.5,293.2 563.1,297.3 563.8,295.3 564.5,291.5 565.2,287.6 566,284.4 566.7,283.4 567.4,283 568.2,279.9 569.1,278.7 569.8,280.6 570.5,283 571.2,280 572,277.2 572.5,281.5 573.1,285.8 573.9,289.5 574.6,294.4 575.3,295.9 576,297.3 576.7,299.2 577.4,303 578.1,308.3 578.9,314.5 579.5,308.6 580,304.4 580.5,296.3 581,288.7 581.5,289.9 582,293 582.6,287.7 583.2,284.4 583.9,281.9 584.6,280.1 585.3,274.6 586,270.1 586.7,278.7 587.5,277.4 588.2,275.8 588.8,278.7 589.4,281.5 590.1,280.6 590.8,278.7 591.4,283.3 592,287.3 592.7,292.7 593.4,297.3 594.1,300.9 594.9,303 595.6,305.7 596.3,308.8 597,311.3 597.7,314.5 598.5,314 599.2,311.6 599.7,305.9 600.2,301.6 600.9,294.9 601.6,287.3 602.3,284 603,280.1 603.5,277.7 604,277.2 604.6,280 605.2,281.5 605.9,284.4 606.6,285.8 607.3,291.1 608,295.9 608.6,293.5 609.2,290.1 609.9,285.7 610.6,280.1 611.3,275.1 612,271.5 612.8,268.7 613.5,265.8 614.2,262.2 614.9,258.6 615.4,256.4 615.9,252.9 616.6,254.2 617.3,254.3 618,254.6 618.8,253.6 619.5,253.1 620.2,252.2 620.9,252.6 621.6,251.5 622.4,249.7 623.1,247.2 623.8,245.4 624.5,242.9 625.1,233.7 625.8,231 626.5,229.4 627.2,227.4 628,227.2 628.7,224.7 629.4,223.7 630.1,224.1 630.8,225.1 631.5,221.5 632.3,219.4 633,222.2 633.7,223.7 634.4,230.2 635.1,236.5 635.6,234.6 636.1,232.2 636.7,231.1 637.3,229.4 638,228 638.7,225.8 639.3,229.7 639.9,233.7 640.4,242 640.9,252.3 641.8,285 642.6,299 643.1,310.6 643.6,321 644.4,345 645,380 645.6,413 646.3,446 646.8,464.7 647.4,482.5 648,446 648.6,413 649,396 649.7,414 650.4,432 650.9,416.1 651.4,400 652.3,385 652.8,378.3 653.2,371 653.8,373.6 654.4,378 655,373.5 655.5,368 656,359.5 656.5,352 657.1,357.6 657.7,365 658.2,369 658.7,374 659.2,366 659.8,357 660.3,352.9 660.8,350 661.3,354 661.9,357 662.5,347 663,335 663.5,328 664.1,321 664.8,300 665.3,283 665.7,278.5 666.1,283 666.5,300 667.1,316 667.8,323 668.5,308 669.3,292.5 670,299 670.4,307 671.1,296 671.8,286 672.5,292 673.3,284.5 673.8,281.5 674.3,278.9 675.1,275.7 675.7,274.1 676.3,272.6 677.1,274.1 677.8,271 678.6,273.4 679.4,271 680.2,262.4 681,256.1 681.8,256.9 682.5,259.2 683.3,269.4 684.1,260 684.9,253 685.7,252.2 686.5,249.8 687,262.4 687.5,274.9 688.2,260 689,254.5 689.8,252.2 690.4,262.4 690.9,277.3 691.6,288.3 692.2,274.1 692.7,267.9 693.5,260 694.1,263.2 694.7,253.8 695.3,249.5 696.1,247.9 697,248.7"/>
</g>
</svg>
<div class="sq" style="left:23.4px;top:575.6px;background:#40a5aa"></div>
<div class="sq" style="left:353.4px;top:575.6px;background:#9a58b5"></div>
<div class="sq" style="left:23.4px;top:598.1px;background:#b5852a"></div>
<div id="txt">
<div class="t" style="left:19.90px;top:126.7px;font-size:14px;letter-spacing:0.600px;color:#909090;-webkit-text-stroke:0.3px #909090">Date:2020/10/14</div>
<div class="t" style="left:582.70px;top:126.7px;font-size:14px;letter-spacing:0.465px;color:#262626;-webkit-text-stroke:0.3px #262626">2012/12/31~2020/10/14</div>
<div class="t" style="left:36.00px;top:574.0px;font-size:14px;letter-spacing:0.182px;color:#45a9ad;-webkit-text-stroke:0.3px #45a9ad"><span class="pa">(</span>VEA<span class="pa">)</span>Vanguard FTSE</div>
<div class="t" style="left:176.80px;top:574.0px;font-size:14px;letter-spacing:0.500px;color:#45a9ad;-webkit-text-stroke:0.3px #45a9ad">成熟市</div>
<div class="t" style="left:220.20px;top:574.0px;font-size:14px;letter-spacing:-0.400px;color:#45a9ad;-webkit-text-stroke:0.3px #45a9ad">...</div>
<div class="t" style="left:235.40px;top:574.0px;font-size:14px;letter-spacing:-1.100px;color:#45a9ad;-webkit-text-stroke:0.3px #45a9ad">市價</div>
<div class="t" style="left:277.50px;top:574.0px;font-size:14px;letter-spacing:0.700px;color:#45a9ad;-webkit-text-stroke:0.3px #45a9ad"><span class="pa">(</span>49.35%<span class="pa">)</span></div>
<div class="t" style="left:366.00px;top:574.0px;font-size:14px;letter-spacing:0.159px;color:#9b62b7;-webkit-text-stroke:0.3px #9b62b7"><span class="pa">(</span>IEFA<span class="pa">)</span>iShares MSCI</div>
<div class="t" style="left:494.40px;top:574.0px;font-size:14px;letter-spacing:-0.150px;color:#9b62b7;-webkit-text-stroke:0.3px #9b62b7">核心歐</div>
<div class="t" style="left:537.00px;top:574.0px;font-size:14px;letter-spacing:-0.300px;color:#9b62b7;-webkit-text-stroke:0.3px #9b62b7">...</div>
<div class="t" style="left:555.30px;top:574.0px;font-size:14px;letter-spacing:-1.300px;color:#9b62b7;-webkit-text-stroke:0.3px #9b62b7">市價</div>
<div class="t" style="left:608.40px;top:574.0px;font-size:14px;letter-spacing:0.457px;color:#9b62b7;-webkit-text-stroke:0.3px #9b62b7"><span class="pa">(</span>49.87%<span class="pa">)</span></div>
<div class="t" style="left:36.00px;top:596.2px;font-size:14px;letter-spacing:0.188px;color:#b5852a;-webkit-text-stroke:0.3px #b5852a"><span class="pa">(</span>EFA<span class="pa">)</span>iShares MSCI</div>
<div class="t" style="left:161.10px;top:596.2px;font-size:14px;letter-spacing:0.900px;color:#b5852a;-webkit-text-stroke:0.3px #b5852a">歐澳遠東</div>
<div class="t" style="left:220.20px;top:596.2px;font-size:14px;letter-spacing:-0.400px;color:#b5852a;-webkit-text-stroke:0.3px #b5852a">...</div>
<div class="t" style="left:235.40px;top:596.2px;font-size:14px;letter-spacing:-1.100px;color:#b5852a;-webkit-text-stroke:0.3px #b5852a">市價</div>
<div class="t" style="left:277.50px;top:596.2px;font-size:14px;letter-spacing:0.700px;color:#b5852a;-webkit-text-stroke:0.3px #b5852a"><span class="pa">(</span>43.25%<span class="pa">)</span></div>
<div class="t" style="left:439.30px;top:666.5px;font-size:11.5px;letter-spacing:0.300px;color:#666;-webkit-text-stroke:0px #666">資料來源：</div>
<div class="t" style="left:497.20px;top:666.2px;font-size:12.5px;letter-spacing:-0.017px;color:#666;-webkit-text-stroke:0px #666">MoneyDJ</div>
<div class="t" style="left:556.80px;top:666.5px;font-size:11.5px;letter-spacing:0.300px;color:#666;-webkit-text-stroke:0px #666">資料日期：</div>
<div class="t" style="left:615.60px;top:666.2px;font-size:12.5px;letter-spacing:0.180px;color:#666;-webkit-text-stroke:0px #666">2012/12/31~2020/10/14</div>
<div class="t" style="left:700.90px;top:148.3px;font-size:15px;letter-spacing:-0.200px;color:#5b9db5;-webkit-text-stroke:0.3px #5b9db5">70%</div>
<div class="t" style="left:700.90px;top:195.2px;font-size:15px;letter-spacing:-0.200px;color:#5b9db5;-webkit-text-stroke:0.3px #5b9db5">60%</div>
<div class="t" style="left:700.90px;top:242.0px;font-size:15px;letter-spacing:-0.200px;color:#5b9db5;-webkit-text-stroke:0.3px #5b9db5">50%</div>
<div class="t" style="left:700.90px;top:288.8px;font-size:15px;letter-spacing:-0.200px;color:#5b9db5;-webkit-text-stroke:0.3px #5b9db5">40%</div>
<div class="t" style="left:700.90px;top:335.7px;font-size:15px;letter-spacing:-0.200px;color:#5b9db5;-webkit-text-stroke:0.3px #5b9db5">30%</div>
<div class="t" style="left:700.90px;top:382.5px;font-size:15px;letter-spacing:-0.200px;color:#5b9db5;-webkit-text-stroke:0.3px #5b9db5">20%</div>
<div class="t" style="left:699.90px;top:429.3px;font-size:15px;letter-spacing:0.300px;color:#5b9db5;-webkit-text-stroke:0.3px #5b9db5">10%</div>
<div class="t" style="left:700.90px;top:476.1px;font-size:15px;letter-spacing:-0.300px;color:#5b9db5;-webkit-text-stroke:0.3px #5b9db5">0%</div>
<div class="t" style="left:701.90px;top:523.0px;font-size:15px;letter-spacing:-0.933px;color:#5b9db5;-webkit-text-stroke:0.3px #5b9db5">–10%</div>
<div class="t" style="left:25.00px;top:543.0px;font-size:15px;letter-spacing:-0.350px;color:#5b9db5;-webkit-text-stroke:0.3px #5b9db5">2012/12</div>
<div class="t" style="left:114.00px;top:543.0px;font-size:15px;letter-spacing:-0.933px;color:#5b9db5;-webkit-text-stroke:0.3px #5b9db5">2014</div>
<div class="t" style="left:198.60px;top:543.0px;font-size:15px;letter-spacing:-0.533px;color:#5b9db5;-webkit-text-stroke:0.3px #5b9db5">2015</div>
<div class="t" style="left:284.30px;top:543.0px;font-size:15px;letter-spacing:-0.600px;color:#5b9db5;-webkit-text-stroke:0.3px #5b9db5">2016</div>
<div class="t" style="left:369.60px;top:543.0px;font-size:15px;letter-spacing:-0.800px;color:#5b9db5;-webkit-text-stroke:0.3px #5b9db5">2017</div>
<div class="t" style="left:454.60px;top:543.0px;font-size:15px;letter-spacing:-0.600px;color:#5b9db5;-webkit-text-stroke:0.3px #5b9db5">2018</div>
<div class="t" style="left:539.90px;top:543.0px;font-size:15px;letter-spacing:-0.733px;color:#5b9db5;-webkit-text-stroke:0.3px #5b9db5">2019</div>
<div class="t" style="left:625.50px;top:543.0px;font-size:15px;letter-spacing:0.233px;color:#5b9db5;-webkit-text-stroke:0.3px #5b9db5">2020</div>
</div>
</body>
</html>
